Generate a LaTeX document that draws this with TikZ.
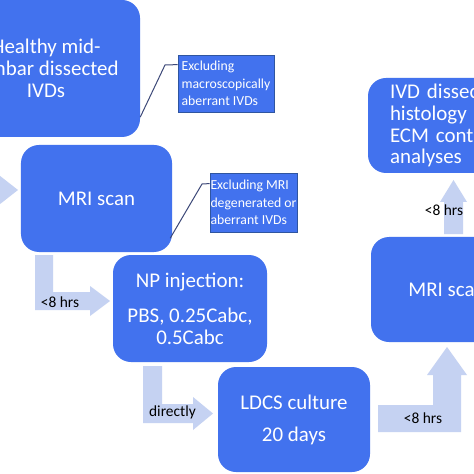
\documentclass[tikz,border=0pt]{standalone}
\usepackage{fontspec}
\setmainfont{Carlito}
\usetikzlibrary{calc}
\definecolor{boxblue}{RGB}{66,114,238}
\definecolor{arrowblue}{RGB}{197,210,242}
\definecolor{edgeblue}{RGB}{47,85,160}
\definecolor{lineblue}{RGB}{60,72,120}
\begin{document}
\begin{tikzpicture}[x=1bp,y=-1bp,
  bigbox/.style={fill=boxblue, rounded corners=18bp, text=white, font=\fontsize{21}{22}\selectfont, align=center, inner sep=0pt},
  note/.style={fill=boxblue, draw=edgeblue, line width=0.8bp, text=white, font=\fontsize{13.8}{17.5}\selectfont, align=left, inner sep=0pt},
  conn/.style={draw=lineblue, line width=1bp},
  bent/.style={fill=arrowblue},
  lab/.style={font=\fontsize{15.5}{17}\selectfont, text=black, inner sep=0pt}]
\useasboundingbox (0,0) rectangle (474,474);
\clip (0,0) rectangle (474,474);
\fill[white] (0,0) rectangle (474,474);

% block arrows
\fill[bent] (-5,172) -- (18,190) -- (-5,208) -- cycle;
\fill[bent] (35,255) -- (53,255) -- (53,292) -- (90,292) -- (90,286) -- (110,301) -- (90,316) -- (90,310) -- (35,310) -- cycle;
\fill[bent] (143,366) -- (162,366) -- (162,404) -- (193,404) -- (193,397) -- (213,413.5) -- (193,430) -- (193,423) -- (143,423) -- cycle;
\fill[bent] (378,405) -- (433,405) -- (433,375) -- (427,375) -- (447,347) -- (467,375) -- (461,375) -- (461,432) -- (378,432) -- cycle;
\fill[bent] (444,234) -- (444,202) -- (440,202) -- (453.5,180) -- (467,202) -- (463,202) -- (463,234) -- cycle;

% main boxes
\node[bigbox, minimum width=188bp, minimum height=137bp] (b1) at (46,68.5) {Healthy mid-\\lumbar dissected\\IVDs};
\node[bigbox, minimum width=151bp, minimum height=107bp] (b2) at (96.5,198.5) {MRI scan};
\node[bigbox, minimum width=154bp, minimum height=107bp] (b3) at (190,308.5) {NP injection:\\[13bp]PBS, 0.25Cabc,\\0.5Cabc};
\node[bigbox, minimum width=152bp, minimum height=105bp] (b4) at (294,419.5) {LDCS culture\\[10bp]20 days};
\node[bigbox, minimum width=152bp, minimum height=105bp] (b5) at (447,289.5) {MRI scan};
\node[bigbox, minimum width=174bp, minimum height=95bp, text width=130bp, align=left] (b6) at (455,125.5) {IVD dissection,\\histology \&\\ECM content\\analyses};

% notes
\node[note, minimum width=96bp, minimum height=57bp] (s1) at (226,83.5) {Excluding\\macroscopically\\aberrant IVDs};
\node[note, minimum width=87bp, minimum height=59bp] (s2) at (253.5,202.5) {Excluding MRI\\degenerated or\\aberrant IVDs};

% connectors
\draw[conn] ($(b1.south east)+(0,-20)$) -- (165,65) -- ($(s1.north west)+(0,10)$);
\draw[conn] ($(b2.south east)+(-2,-14)$) -- (202,184) -- ($(s2.north west)+(0,11)$);

% arrow labels
\node[lab] (l1) at (60,302) {<8 hrs};
\node[lab] (l2) at (172.5,412) {directly};
\node[lab] (l3) at (423,418) {<8 hrs};
\node[lab] (l4) at (444,210) {<8 hrs};
\end{tikzpicture}
\end{document}
